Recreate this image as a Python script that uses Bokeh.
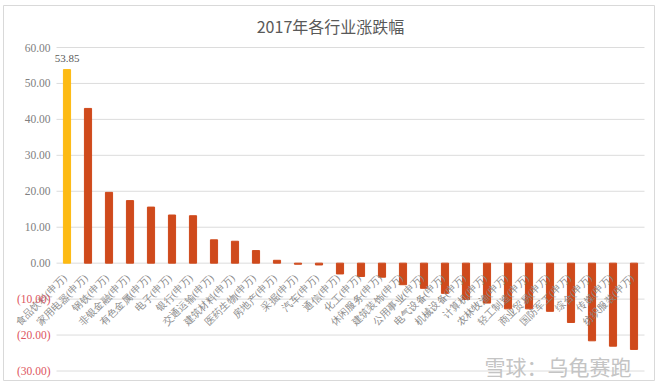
from math import pi
from bokeh.plotting import figure
from bokeh.models import ColumnDataSource, LabelSet, Range1d, Label
from bokeh.embed import file_html
from bokeh.resources import INLINE

title_text = "2017年各行业涨跌幅"

industries = [
    "食品饮料(申万)", "家用电器(申万)", "钢铁(申万)", "非银金融(申万)", "有色金属(申万)",
    "电子(申万)", "银行(申万)", "交通运输(申万)", "建筑材料(申万)", "医药生物(申万)",
    "房地产(申万)", "采掘(申万)", "汽车(申万)", "通信(申万)", "化工(申万)",
    "休闲服务(申万)", "建筑装饰(申万)", "公用事业(申万)", "电气设备(申万)", "机械设备(申万)",
    "计算机(申万)", "农林牧渔(申万)", "轻工制造(申万)", "商业贸易(申万)", "国防军工(申万)",
    "综合(申万)", "传媒(申万)", "纺织服装(申万)",
]
changes = [
    53.85, 43.05, 19.7, 17.4, 15.6,
    13.4, 13.2, 6.5, 6.1, 3.5,
    0.8, -0.3, -0.5, -3.0, -3.7,
    -3.9, -6.0, -7.0, -8.4, -10.1,
    -11.1, -12.7, -12.7, -13.4, -16.5,
    -21.6, -23.1, -24.0,
]
y_ticks = [60, 50, 40, 30, 20, 10, 0, -10, -20, -30]
watermark = "雪球：乌龟赛跑"

HIGHLIGHT = "#FDBA12"
BAR = "#CF4A1C"
GREY = "#808080"
RED = "#DD5560"

n = len(industries)
idx = list(range(n))
vmax = max(changes)
colors = [HIGHLIGHT if v == vmax else BAR for v in changes]
src = ColumnDataSource(dict(x=idx, cat=industries, val=changes, color=colors))

top_src = ColumnDataSource(dict(
    x=[i for i, v in zip(idx, changes) if v == vmax],
    val=[v for v in changes if v == vmax],
    txt=[f"{v:.2f}" for v in changes if v == vmax],
))


def fmt(v):
    return f"{v:.2f}" if v >= 0 else f"({abs(v):.2f})"


left_edge = -0.5
right_edge = n - 0.5
tick_src = ColumnDataSource(dict(
    x0=[left_edge] * len(y_ticks),
    x1=[right_edge] * len(y_ticks),
    y=y_ticks,
    txt=[fmt(t) for t in y_ticks],
    color=[GREY if t >= 0 else RED for t in y_ticks],
))

# geometry (pixels): frame spans the whole bordered chart box
W, H = 656, 382
FL, FR, FT, FB = 3, 654, 5, 380          # frame box in picture pixels
px_per_cat = 21.0
px_per_unit = (370.5 - 47.0) / 90.0
X0_PIX = 56.0                             # pixel of left_edge
Y60_PIX = 47.0                            # pixel of top tick
x_start = left_edge - (X0_PIX - FL) / px_per_cat
x_end = x_start + (FR - FL) / px_per_cat
y_end = max(y_ticks) + (Y60_PIX - FT) / px_per_unit
y_start = y_end - (FB - FT) / px_per_unit

p = figure(
    width=W, height=H,
    x_range=Range1d(x_start, x_end),
    y_range=Range1d(y_start, y_end),
    output_backend="svg", toolbar_location=None,
    min_border_left=FL, min_border_right=W - FR, min_border_top=FT, min_border_bottom=H - FB,
)
p.outline_line_color = "#d9d9d9"
p.background_fill_color = "white"
p.border_fill_color = "white"
p.xaxis.visible = False
p.yaxis.visible = False
p.xgrid.grid_line_color = None
p.ygrid.grid_line_color = None

p.segment(x0="x0", x1="x1", y0="y", y1="y", source=tick_src,
          line_color="#dcdcdc", line_width=1)

p.vbar(x="x", top="val", bottom=0, width=0.34, color="color", source=src)

p.add_layout(LabelSet(
    x="x", y=0, text="cat", source=src, angle=pi / 4,
    text_align="right", text_baseline="middle",
    x_offset=-2, y_offset=-13,
    text_font="Noto Sans CJK SC", text_font_size="10px", text_color="#8a8a8a",
))

p.add_layout(LabelSet(
    x="x", y="val", text="txt", source=top_src,
    text_align="center", text_baseline="bottom", y_offset=8,
    text_font="Lato", text_font_size="11px", text_color="#595959",
))

p.add_layout(LabelSet(
    x="x0", y="y", text="txt", text_color="color", source=tick_src,
    text_align="right", text_baseline="middle", x_offset=-6,
    text_font="Lato", text_font_size="11.5px",
))

p.add_layout(Label(
    x=330 - FL, y=FB - 25, x_units="screen", y_units="screen", text=title_text,
    text_align="center", text_baseline="middle",
    text_font="Noto Sans CJK SC", text_font_size="16px", text_color="#595959",
))

p.add_layout(Label(
    x=484 - FL, y=FB - 365, x_units="screen", y_units="screen", text=watermark,
    text_align="left", text_baseline="middle",
    text_font="Noto Sans CJK SC", text_font_size="21px", text_color="#c4c4c4",
))

open("out.html", "w").write(file_html(p, INLINE))
